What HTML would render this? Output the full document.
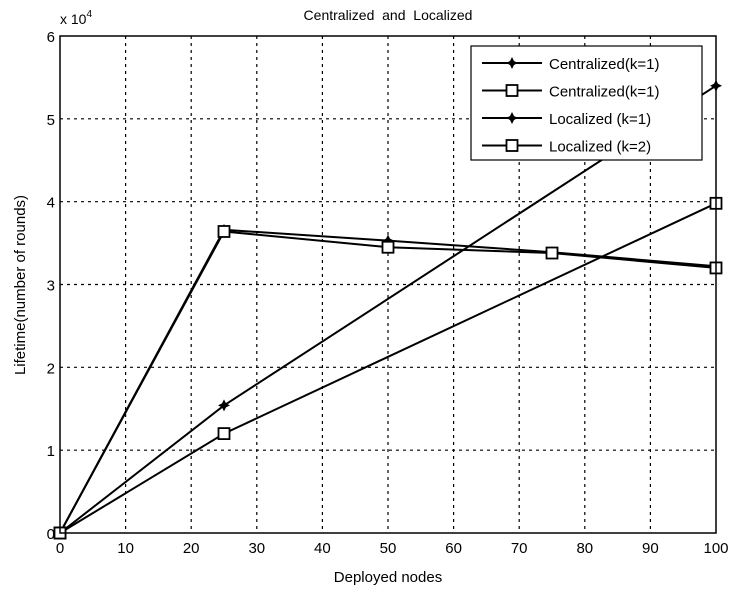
<!DOCTYPE html>
<html><head><meta charset="utf-8"><style>
html,body{margin:0;padding:0;background:#fff;}
svg{display:block;font-family:"Liberation Sans",sans-serif;}
</style></head><body>
<svg id="chart" width="737" height="596">
<rect width="737" height="596" fill="#fff"/>
<g id="grid"></g>
<g id="series"></g>
<g id="axes"></g>
<text x="388" y="20" font-size="14" text-anchor="middle" style="white-space:pre">Centralized  and  Localized</text>
<text x="388" y="582" font-size="15" text-anchor="middle">Deployed nodes</text>
<text transform="translate(25,285) rotate(-90)" font-size="15" text-anchor="middle">Lifetime(number of rounds)</text>
<text x="60" y="24" font-size="14">x 10<tspan font-size="10" dy="-7">4</tspan></text>
<g id="legend"></g>
</svg>
<script>
const xTicks=[0,10,20,30,40,50,60,70,80,90,100];
const yTicks=[0,1,2,3,4,5,6];
const seriesNames=["Centralized(k=1)","Centralized(k=1)","Localized (k=1)","Localized (k=2)"];
const seriesMarkers=["star","square","star","square"];
const xCentral=[0,25,50,75,100];
const centralK1=[0,36600,35300,33900,32200];
const centralK1b=[0,36400,34500,33800,32000];
const xLocal=[0,25,100];
const localK1=[0,15400,54000];
const localK2=[0,12000,39800];

const L=60,R=716,T=36,B=533;
const xs=v=>L+(R-L)*v/100;
const ys=v=>B-(B-T)*v/60000;
const NS="http://www.w3.org/2000/svg";
function mk(tag,attrs,parent){const e=document.createElementNS(NS,tag);for(const k in attrs)e.setAttribute(k,attrs[k]);parent.appendChild(e);return e;}
const grid=document.getElementById('grid'),axes=document.getElementById('axes'),ser=document.getElementById('series'),leg=document.getElementById('legend');
xTicks.forEach(t=>{
  if(t>0&&t<100){const l=mk('line',{x1:xs(t),x2:xs(t),y1:T,y2:B,stroke:'#000','stroke-dasharray':'3,4','stroke-width':1.2},grid);
  
  }
  const tx=mk('text',{x:xs(t),y:B+20,'font-size':15,'text-anchor':'middle'},axes);tx.textContent=t;
  
  
});
yTicks.forEach(t=>{
  const v=t*10000;
  if(t>0&&t<6){const l=mk('line',{x1:L,x2:R,y1:ys(v),y2:ys(v),stroke:'#000','stroke-dasharray':'3,4','stroke-width':1.2},grid);
  
  }
  const tx=mk('text',{x:L-5,y:ys(v)+6,'font-size':15,'text-anchor':'end'},axes);tx.textContent=t;
  
  
});
const frame=mk('rect',{x:L,y:T,width:R-L,height:B-T,fill:'none',stroke:'#000','stroke-width':1.5},axes);



function marker(type,x,y,p){
  if(type==='star'){const m=mk('path',{d:`M${x},${y-6}L${x+2},${y-2}L${x+6},${y}L${x+2},${y+2}L${x},${y+6}L${x-2},${y+2}L${x-6},${y}L${x-2},${y-2}Z`,fill:'#000'},p);return m;}
  return mk('rect',{x:x-5.5,y:y-5.5,width:11,height:11,fill:'#fff',stroke:'#000','stroke-width':1.8},p);
}
const allX=[xCentral,xCentral,xLocal,xLocal],allY=[centralK1,centralK1b,localK1,localK2];
allY.forEach((arr,i)=>{
  const g=mk('g',{},ser);
  
  
  const pts=arr.map((v,j)=>xs(allX[i][j])+','+ys(v)).join(' ');
  const pl=mk('polyline',{points:pts,fill:'none',stroke:'#000','stroke-width':2},g);
  
  
  arr.forEach((v,j)=>{const m=marker(seriesMarkers[i],xs(allX[i][j]),ys(v),g);
    
    });
});
const lb=mk('rect',{x:471,y:46,width:231,height:114,fill:'#fff',stroke:'#000','stroke-width':1.2},leg);


seriesNames.forEach((n,i)=>{
  const y=63+i*27.5;
  const g=mk('g',{},leg);
  
  
  mk('line',{x1:482,x2:542,y1:y,y2:y,stroke:'#000','stroke-width':2},g);
  marker(seriesMarkers[i],512,y,g);
  const t=mk('text',{x:549,y:y+6,'font-size':15},g);t.textContent=n;
});
</script>
</body></html>
